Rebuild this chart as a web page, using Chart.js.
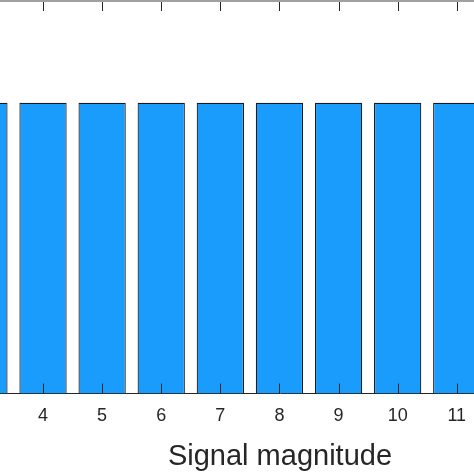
<!DOCTYPE html>
<html><head><meta charset="utf-8">
<script src="https://cdn.jsdelivr.net/npm/chart.js@4.4.0/dist/chart.umd.min.js"></script>
<style>html,body{margin:0;padding:0;overflow:hidden;background:#fff;width:474px;height:474px}
#wrap{position:absolute;left:0;top:0;width:560px;height:474px}</style></head>
<body><div id="wrap"><canvas id="c" width="560" height="474"></canvas></div>
<script>
const categories = [3,4,5,6,7,8,9,10,11,12];
const values = [1,1,1,1,1,1,1,1,1,1];
const tickValues = [4,5,6,7,8,9,10,11,12];
const xTitle = 'Signal magnitude';

const tickMarks = {
  id:'tickMarks',
  afterDraw(chart){
    const {ctx, chartArea:a, scales:{x}} = chart;
    ctx.save();
    ctx.strokeStyle='#262626'; ctx.lineWidth=1;
    tickValues.forEach(v=>{
      const px=Math.round(x.getPixelForValue(v))+0.5;
      ctx.beginPath();ctx.moveTo(px,a.bottom);ctx.lineTo(px,a.bottom-10);
      ctx.moveTo(px,a.top);ctx.lineTo(px,a.top+10);ctx.stroke();
    });
    ctx.strokeStyle='#a0a0a0';ctx.lineWidth=2;
    ctx.beginPath();ctx.moveTo(a.left,a.top);ctx.lineTo(a.right,a.top);ctx.stroke();
    ctx.restore();
  }
};

new Chart(document.getElementById('c'),{
  type:'bar',
  data:{datasets:[{data:categories.map((c,i)=>({x:c,y:values[i]})),
    backgroundColor:'#1a9cfc',borderColor:'#1a1a1a',borderWidth:1.2,
    barPercentage:0.8,categoryPercentage:1}]},
  options:{responsive:false,animation:false,
    layout:{padding:{top:1,left:0,right:0,bottom:0}},
    plugins:{legend:{display:false},tooltip:{enabled:false}},
    scales:{
      x:{type:'linear',offset:false,min:3.272,max:12.747,
        afterBuildTicks(s){s.ticks=tickValues.map(v=>({value:v}));},
        grid:{display:false,drawTicks:false,offset:false},
        border:{display:true,color:'#262626',width:1},
        ticks:{padding:12,color:'#262626',font:{family:'Liberation Sans',size:18},callback:v=>String(v)},
        title:{display:true,text:xTitle,color:'#262626',font:{family:'Liberation Sans',size:29},padding:{top:0,bottom:0}}},
      y:{display:false,min:0,max:1.35}
    }},
  plugins:[tickMarks]
});
</script></body></html>
